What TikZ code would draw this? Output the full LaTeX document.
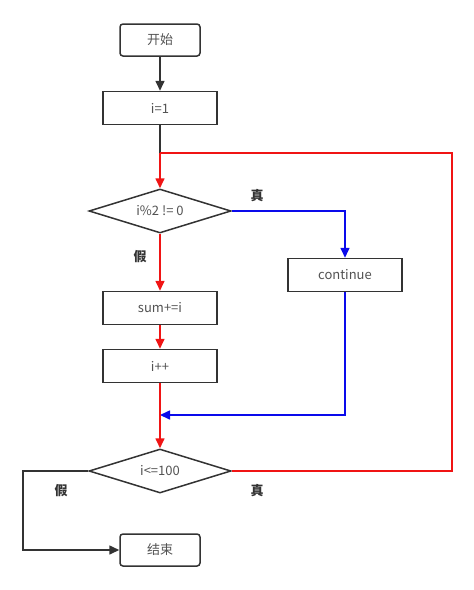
\documentclass[tikz,border=0pt]{standalone}
\usepackage{fontspec}
\setmainfont{Noto Sans CJK SC}
\definecolor{flowred}{RGB}{240, 20, 20}
\definecolor{flowblue}{RGB}{10, 10, 235}
\definecolor{flowgray}{RGB}{51, 51, 51}
\usetikzlibrary{shapes.geometric, arrows.meta, positioning}

\begin{document}
\begin{tikzpicture}[x=1pt, y=-1pt,
  font=\fontsize{13pt}{15pt}\selectfont,
  terminal/.style={draw=flowgray, line width=1.5pt, rounded corners=3pt, minimum width=80pt, minimum height=32pt, text=flowgray!85},
  process/.style={draw=flowgray, line width=1.5pt, minimum width=114pt, minimum height=33pt, text=flowgray!85},
  decision/.style={draw=flowgray, line width=1.5pt, diamond, aspect=3.2, inner sep=0pt, minimum width=142pt, minimum height=44pt, text=flowgray!85},
  tag/.style={text=flowgray, font=\fontsize{13pt}{15pt}\selectfont\bfseries},
  link/.style={line width=1.6pt, -{Triangle[width=9pt,length=10pt]}}
]
  \useasboundingbox (0,0) rectangle (474,590);

  % boxes
  \node[terminal] (start) at (160,40) {开始};
  \node[process] (init) at (160,108) {i=1};
  \node[decision] (odd) at (160,211) {i\%2 != 0};
  \node[process] (skip) at (345,275) {continue};
  \node[process] (sum) at (160,308) {sum+=i};
  \node[process] (inc) at (160,366) {i++};
  \node[decision] (test) at (160,471) {i<=100};
  \node[terminal] (stop) at (160,550) {结束};

  \coordinate (loop) at (160,153);
  \coordinate (merge) at (160,415);

  % flow
  \draw[link, flowgray] (start) -- (init);
  \draw[line width=1.6pt, flowgray] (init.south) -- (loop);
  \draw[link, flowred] (loop) -- (odd.north);
  \draw[link, flowblue] (odd.east) -| (skip.north);
  \draw[link, flowblue] (skip.south) |- (merge);
  \draw[link, flowred] (odd.south) -- (sum.north);
  \draw[link, flowred] (sum) -- (inc);
  \draw[link, flowred] (inc.south) -- (test.north);
  \draw[line width=1.6pt, flowred] (test.east) -- (452,471) -- (452,153) -- (loop);
  \draw[link, flowgray] (test.west) -- (23,471) |- (stop.west);

  % labels
  \node[tag] (oddyes) at (257,196) {真};
  \node[tag] (oddno) at (140,257) {假};
  \node[tag] (testyes) at (257,491) {真};
  \node[tag] (testno) at (61,491) {假};
\end{tikzpicture}
\end{document}
